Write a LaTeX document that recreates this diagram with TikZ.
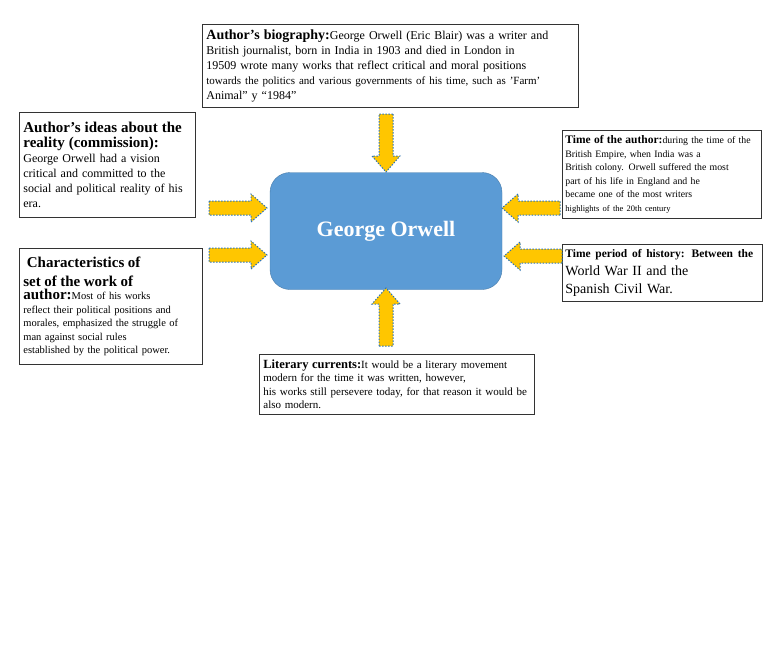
\documentclass[tikz,border=0pt]{standalone}
\usepackage{fontspec}
\setmainfont{Liberation Serif}
\begin{document}
\begin{tikzpicture}[x=1pt,y=-1pt,
  box/.style={draw=black!80,line width=0.8pt,anchor=north west,align=left,inner sep=4pt,font=\fontsize{12}{15}\selectfont},
  arr/.style={fill=orange!45!yellow,draw=ab,dash pattern=on 1.5pt off 1.5pt,line width=1pt},
  yarrow/.pic={\draw[arr] (0,-7)--(42,-7)--(42,-14)--(58,0)--(42,14)--(42,7)--(0,7)--cycle;}]
\definecolor{cb}{HTML}{5B9BD5}
\definecolor{ab}{HTML}{2E75B6}
\useasboundingbox (0,0) rectangle (768,669);
\node[draw=cb!80!black,fill=cb,rounded corners=20pt,minimum width=232pt,minimum height=117pt,font=\bfseries\fontsize{22}{26}\selectfont,text=white] (c) at (386,231) {George Orwell};
\node[box,text width=368pt,minimum height=83pt] (b) at (202,24) {{\bfseries\fontsize{14}{15}\selectfont Author's biography:}George Orwell (Eric Blair) was a writer and\\British journalist, born in India in 1903 and died in London in\\19509 wrote many works that reflect critical and moral positions\\{\fontsize{11}{15}\selectfont towards the politics and various governments of his time, such as 'Farm'}\\Animal'' y ``1984''};
\node[box,text width=168pt,minimum height=105pt] (i) at (19,112) {{\bfseries\fontsize{15}{18}\selectfont Author's ideas about the\\reality (commission):}\\George Orwell had a vision\\critical and committed to the\\social and political reality of his\\era.};
\node[box,text width=175pt,minimum height=116pt,font=\fontsize{10.5}{13.5}\selectfont] (ch) at (19,248) {{\bfseries\fontsize{15}{19}\selectfont\ Characteristics of\\set of the work of\\author:}Most of his works\\reflect their political positions and\\morales, emphasized the struggle of\\man against social rules\\established by the political power.};
\node[box,text width=267pt,minimum height=60pt,font=\fontsize{11}{13.5}\selectfont] (l) at (259,354) {{\bfseries\fontsize{12.5}{14}\selectfont Literary currents:}It would be a literary movement\\modern for the time it was written, however,\\his works still persevere today, for that reason it would be\\also modern.};
\node[box,text width=193pt,minimum height=88pt,inner sep=3pt,font=\fontsize{9.8}{13.5}\selectfont] (t) at (562,130) {{\bfseries\fontsize{11.5}{14}\selectfont Time of the author:}during the time of the\\British Empire, when India was a\\British colony. Orwell suffered the most\\part of his life in England and he\\became one of the most writers\\{\fontsize{8.5}{12}\selectfont highlights of the 20th century}};
\node[box,text width=194pt,minimum height=57pt,inner sep=3pt,font=\fontsize{14}{18}\selectfont] (p) at (562,244) {{\bfseries\fontsize{11.5}{15}\selectfont Time period of history: Between the}\\World War II and the\\Spanish Civil War.};
\pic[rotate=-90] at (386,114) {yarrow};
\pic[rotate=90] at (386,346) {yarrow};
\pic at (209,208) {yarrow};
\pic at (209,255) {yarrow};
\pic[rotate=180] at (560,208) {yarrow};
\pic[rotate=180] at (562,256) {yarrow};
\end{tikzpicture}
\end{document}
